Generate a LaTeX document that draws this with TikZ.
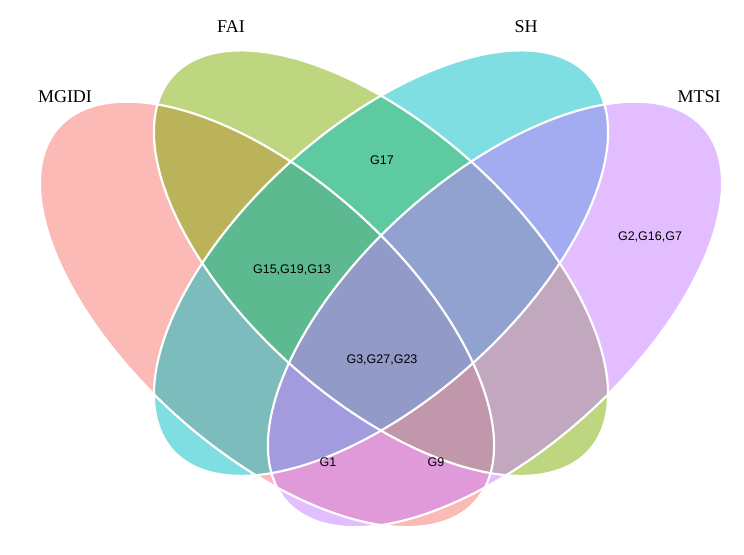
\documentclass[tikz,border=0pt]{standalone}
\usepackage{fontspec}
\setmainfont{Liberation Serif}
\setsansfont{Liberation Sans}
\definecolor{cA}{HTML}{F8766D}
\definecolor{cB}{HTML}{7CAE00}
\definecolor{cC}{HTML}{00BFC4}
\definecolor{cD}{HTML}{C77CFF}
\tikzset{
  setlabel/.style={font=\fontsize{18}{20}\selectfont\rmfamily, anchor=center},
  reglabel/.style={font=\fontsize{12.5}{14}\selectfont\sffamily, anchor=center},
  venn/.style={fill=#1, fill opacity=0.5, draw=none},
  border/.style={draw=white, line width=2.2pt}
}
\newcommand{\vellipse}[5]{plot[domain=0:360, samples=120, smooth cycle, variable=\t]
 ({#1 + #3*cos(\t)*cos(#5) - #4*sin(\t)*sin(#5)}, {#2 + #3*cos(\t)*sin(#5) + #4*sin(\t)*cos(#5)})}
\begin{document}
\begin{tikzpicture}[x=1pt,y=1pt]
\useasboundingbox[fill=white] (0,0) rectangle (744,-554);
\begin{scope}[shift={(1pt,-659pt)}, x={(760pt,0)}, y={(0,712pt)}]
  \fill[venn=cA] \vellipse{0.35}{0.484}{0.38}{0.185}{135};
  \fill[venn=cB] \vellipse{0.5}{0.556}{0.38}{0.185}{135};
  \fill[venn=cC] \vellipse{0.5}{0.556}{0.38}{0.185}{45};
  \fill[venn=cD] \vellipse{0.65}{0.484}{0.38}{0.185}{45};
  \draw[border] \vellipse{0.35}{0.484}{0.38}{0.185}{135};
  \draw[border] \vellipse{0.5}{0.556}{0.38}{0.185}{135};
  \draw[border] \vellipse{0.5}{0.556}{0.38}{0.185}{45};
  \draw[border] \vellipse{0.65}{0.484}{0.38}{0.185}{45};
\end{scope}
\node[setlabel] (tA) at (65,-97) {MGIDI};
\node[setlabel] (tB) at (231,-27) {FAI};
\node[setlabel] (tC) at (526,-27) {SH};
\node[setlabel] (tD) at (699,-97) {MTSI};
\node[reglabel] (r17) at (382,-160) {G17};
\node[reglabel] (r15) at (292,-270) {G15,G19,G13};
\node[reglabel] (r2) at (650,-237) {G2,G16,G7};
\node[reglabel] (r3) at (382,-360) {G3,G27,G23};
\node[reglabel] (r1) at (328,-462) {G1};
\node[reglabel] (r9) at (436,-462) {G9};
\end{tikzpicture}
\end{document}
